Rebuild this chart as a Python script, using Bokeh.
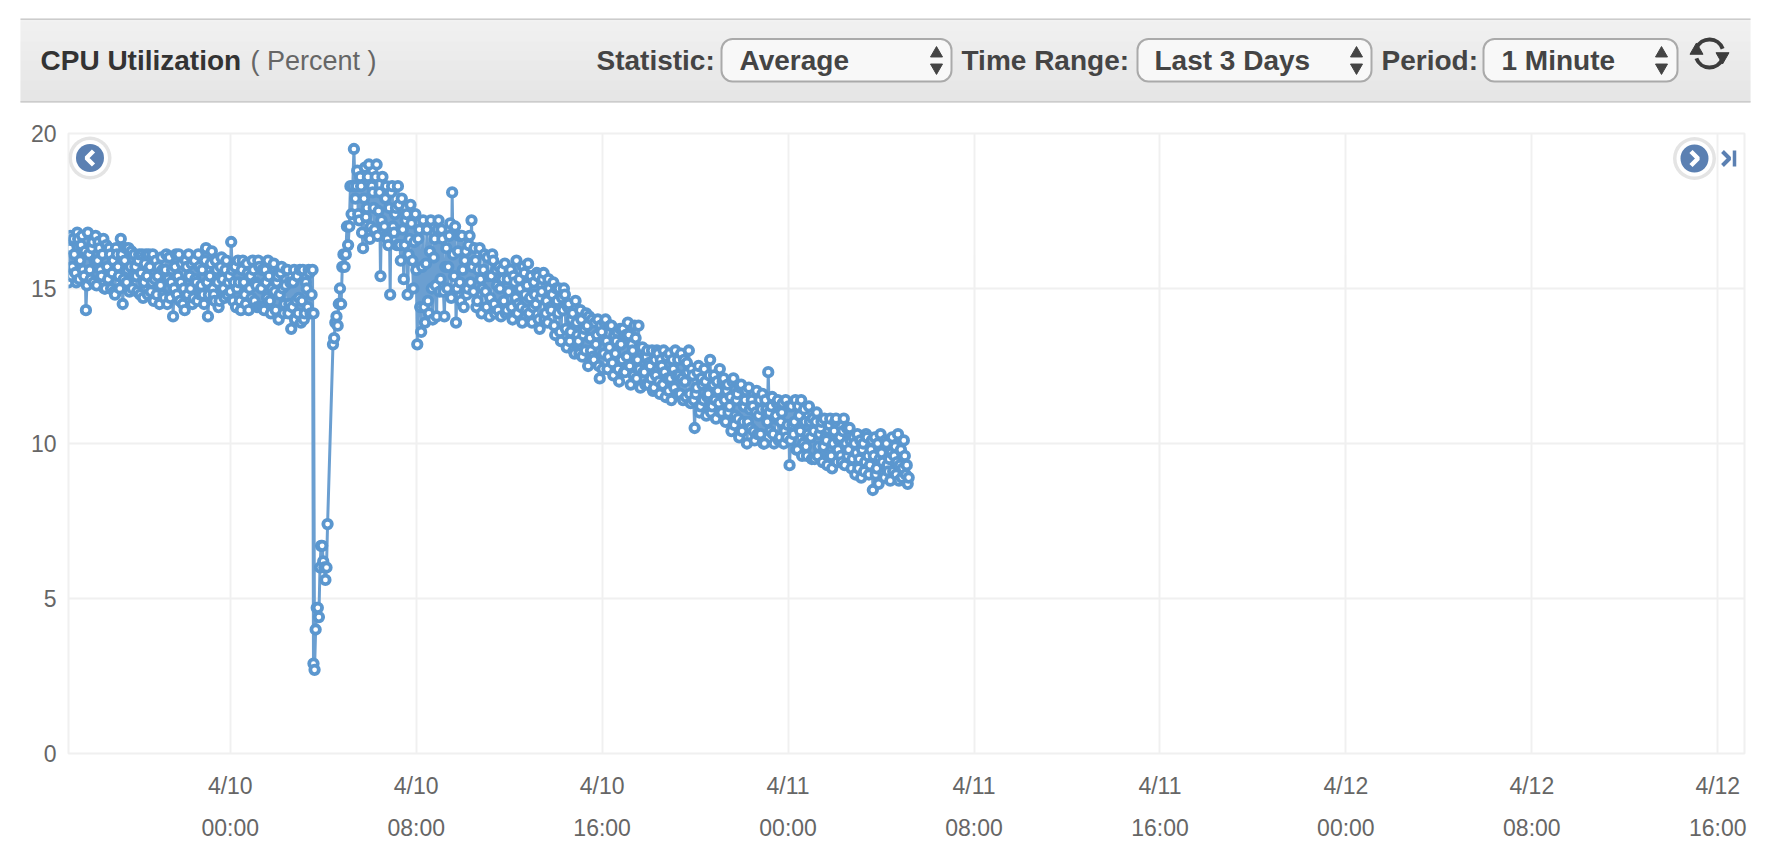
from bokeh.plotting import figure
from bokeh.models import Range1d, LinearAxis, FixedTicker, BoxAnnotation, Grid
from bokeh.layouts import column, row
from bokeh.core.properties import value
from bokeh.embed import file_html
from bokeh.resources import INLINE

# ---------- data ----------
title_main = "CPU Utilization"
title_unit = "( Percent )"
controls = ["Statistic:", "Time Range:", "Period:"]
choices = ["Average", "Last 3 Days", "1 Minute"]

tick_hours = [0, 8, 16, 24, 32, 40, 48, 56, 64]
tick_dates = ["4/10", "4/10", "4/10", "4/11", "4/11", "4/11", "4/12", "4/12", "4/12"]
tick_times = ["00:00", "08:00", "16:00", "00:00", "08:00", "16:00", "00:00", "08:00", "16:00"]
y_ticks = [0, 5, 10, 15, 20]

# CPU values; hours are relative to 4/10 00:00
before_start, before_step = -6.96, 5 / 60
before = [
    15.2,16.7,15.7,16.1,15.2,16.6,15.9,16.7,15.4,14.3,
    16.8,15.6,16.3,15.2,16.7,15.9,16.3,15.4,16.6,15.0,
    15.7,16.3,15.0,15.9,14.8,16.1,15.4,16.6,14.5,15.9,
    15.2,16.3,15.7,15.0,16.1,15.4,15.9,14.8,16.1,15.2,
    16.1,14.8,15.7,15.2,14.6,15.9,15.4,14.5,16.0,14.8,
    15.6,14.5,16.0,15.2,14.1,15.7,14.8,16.1,15.2,14.5,
    14.3,15.7,16.1,15.0,14.5,15.9,15.2,16.1,14.8,15.6,
    14.5,16.3,14.1,15.4,16.2,14.8,15.9,15.2,14.6,16.0,
    15.0,15.6,14.8,15.4,16.5,14.6,15.7,15.0,15.2,14.3,
    15.9,14.8,15.8,14.3,15.4,15.9,14.6,15.1,15.9,14.4,
    15.6,14.3,15.2,15.9,14.6,15.0,15.8,14.3,15.4,14.8,
    15.7,14.2,15.1,15.6,14.5,13.7,15.2,14.0,15.4,14.7,
    13.9,15.6,14.2,15.0,15.6,14.2,15.6,
]
before_mid = [
    16.3,15.4,16.6,15.5,16.8,15.3,16.4,15.6,16.2,15.1,
    16.1,15.3,16.5,15.9,15.1,16.5,15.6,16.1,15.0,16.4,
    15.3,16.1,15.5,14.9,16.3,15.7,15.0,16.1,15.3,16.3,
    15.6,14.9,16.2,15.4,15.7,14.9,16.1,15.5,14.7,15.8,
    15.4,16.1,14.9,16.1,15.3,14.8,15.7,15.1,15.6,14.7,
    16.1,15.3,14.7,15.6,15.0,16.1,15.4,14.6,15.8,15.0,
    15.9,14.8,15.4,15.8,14.7,15.3,14.6,15.7,15.1,14.8,
    15.9,15.2,14.8,15.8,15.0,14.6,15.6,14.4,15.7,15.3,
    14.7,15.9,15.2,14.9,15.6,15.2,14.4,15.9,14.6,15.6,
    15.2,14.5,15.5,15.0,14.7,15.6,15.2,14.4,15.7,15.0,
    14.4,15.6,14.7,15.4,14.2,15.7,14.9,15.2,14.0,15.5,
    15.0,14.5,15.6,14.2,15.2,14.4,15.6,14.6,14.2,15.6,
    14.6,14.0,15.2,14.4,15.5,14.8,14.2,
]
dip_start, dip_step = 3.58, 2.8 / 60
dip = [2.9,2.7,4.0,4.7,4.7,4.4,6.0,6.7,6.7,6.2,6.0,5.6,6.0,7.4]
rise_start, rise_step = 4.42, 3 / 60
rise = [13.2,13.4,13.9,14.1,13.8,14.5,15.0,14.5,15.7,16.1,15.7,16.1,17.0,16.4,17.0,18.3,17.4,18.3,19.5]
high_start, high_step = 5.38, 5 / 60
high = [
    17.9,18.8,17.2,18.3,16.3,18.9,17.6,19.0,17.0,18.1,
    16.9,19.0,17.5,15.4,18.6,17.0,18.3,16.4,14.8,18.3,
    16.8,17.6,18.3,16.4,17.9,15.3,17.2,14.8,16.6,17.1,
    15.0,17.4,13.2,16.9,13.6,17.2,13.9,16.9,14.2,17.2,
    14.0,16.6,14.1,17.2,15.3,16.6,14.1,16.3,15.7,17.1,
    18.1,15.4,13.9,16.2,15.2,16.7,14.4,16.2,15.0,16.7,
    17.2,14.9,15.9,14.6,
]
high_mid = [
    18.3,17.4,18.6,16.8,17.9,17.3,18.6,16.6,18.3,17.6,
    18.6,16.7,18.1,17.2,16.9,17.9,16.6,17.6,18.1,17.0,
    17.4,16.4,17.7,15.9,16.9,16.4,17.4,16.1,17.7,15.9,
    16.5,15.6,16.6,14.4,15.7,14.4,15.8,14.6,16.2,15.0,
    16.0,15.1,16.9,14.9,16.9,14.9,15.7,15.0,16.7,14.7,
    16.1,17.0,15.0,16.7,14.6,15.6,15.9,14.8,16.4,15.2,
    15.7,16.3,14.4,15.6,
]
tail_start, tail_step = 10.73, 5 / 60
tail = [
    16.3,14.2,15.6,14.9,16.0,14.1,15.4,15.9,14.2,15.1,
    15.7,14.1,15.3,15.8,14.3,14.9,15.6,14.0,15.2,15.9,
    14.5,15.0,13.9,15.5,14.3,15.8,14.7,13.9,15.2,14.5,
    15.4,13.7,14.9,15.5,14.2,13.9,15.0,14.3,15.2,13.5,
    14.6,15.0,13.3,14.3,14.8,
    13.1,14.5,13.6,14.2,12.9,13.9,13.3,14.3,12.8,13.7,
    14.2,12.5,13.4,14.0,12.7,13.2,14.0,12.1,13.6,12.9,
    14.0,12.4,13.1,13.8,12.2,12.9,13.6,12.0,13.2,13.7,
    12.3,12.8,13.5,11.9,13.0,13.8,12.1,13.8,
    11.8,13.1,12.3,12.8,11.9,12.5,13.0,11.8,12.2,12.9,
    11.6,12.5,13.0,11.5,12.1,12.9,11.4,12.4,13.0,11.6,
    12.2,12.9,11.4,12.0,12.6,13.0,11.3,12.2,10.5,11.8,
    12.5,11.2,11.9,12.4,10.9,11.6,12.7,11.2,12.2,10.8,
    11.7,12.4,11.0,12.1,
    10.7,11.9,11.2,10.4,12.1,10.9,11.6,10.2,11.9,10.7,
    11.4,10.0,11.8,10.5,11.2,10.1,11.7,10.9,10.3,11.6,
    10.0,11.1,12.3,10.4,11.5,10.0,10.9,11.4,10.2,11.0,
    10.0,11.4,10.6,9.3,11.2,
    10.3,11.4,9.8,10.9,11.4,10.0,10.7,9.6,11.2,10.2,
    10.8,9.5,11.0,9.9,10.5,9.4,10.8,10.1,9.6,10.8,
    9.2,10.4,10.8,9.8,10.2,9.4,10.8,10.0,9.6,10.5,
    9.2,10.2,9.0,10.3,9.5,8.9,10.0,9.4,10.2,9.0,
    9.8,8.5,10.2,9.2,8.7,10.3,9.4,8.9,10.0,9.1,
    8.8,10.2,9.6,9.0,10.3,9.3,8.9,10.1,9.0,8.7,
]
tail_mid = [
    15.3,15.0,16.1,14.4,15.4,14.7,16.1,14.5,15.6,14.3,
    15.0,15.6,14.6,14.2,15.3,15.6,14.4,15.4,14.7,14.2,
    15.3,14.4,15.7,14.8,15.1,14.2,15.4,14.4,14.8,15.5,
    14.0,14.7,15.3,14.0,14.6,15.3,14.4,14.8,13.8,15.0,
    14.2,13.6,14.7,15.0,13.7,
    14.4,13.3,14.0,13.0,14.6,13.5,12.9,14.0,13.5,13.0,
    13.8,14.1,13.0,12.8,13.9,13.5,12.5,13.8,12.4,13.9,
    13.3,12.8,13.8,12.6,13.5,13.3,12.4,13.7,12.7,12.3,
    13.5,13.9,12.5,13.2,12.2,13.4,12.7,12.4,
    13.0,12.3,11.9,13.0,12.6,12.1,11.7,12.7,13.0,12.0,
    12.7,11.9,12.3,12.8,11.7,12.1,12.7,11.8,12.2,12.7,
    11.6,12.1,12.7,11.5,12.3,11.6,12.4,11.4,11.6,12.3,
    11.0,12.1,11.4,12.0,11.5,12.2,11.0,11.9,11.4,12.0,
    11.3,11.0,12.0,11.4,
    11.7,11.0,11.5,12.0,10.6,11.4,10.8,11.8,10.4,11.2,
    11.7,10.7,11.1,11.4,10.4,11.0,10.3,11.4,11.1,10.0,
    11.4,10.7,11.0,11.2,10.3,10.8,11.3,10.1,10.7,11.3,
    10.4,10.2,11.2,10.1,10.6,
    10.7,9.8,11.2,10.4,9.6,11.1,9.9,10.3,10.7,9.5,
    10.4,10.7,9.6,10.3,10.7,9.9,10.2,9.3,10.6,9.6,
    10.0,10.7,9.4,10.1,9.6,10.4,9.3,10.5,9.8,10.1,
    9.5,10.0,9.7,9.2,10.1,9.8,9.1,10.3,9.6,9.3,
    10.1,9.6,9.0,10.0,9.5,9.7,9.0,10.1,9.3,9.5,
    9.7,9.1,9.9,9.4,8.8,9.8,9.2,9.6,9.3,8.9,
]

samples = []
for start, step, vals, offset in [(before_start, before_step, before, 0),
                                  (before_start, before_step, before_mid, 0.5),
                                  (dip_start, dip_step, dip, 0),
                                  (rise_start, rise_step, rise, 0),
                                  (high_start, high_step, high, 0),
                                  (high_start, high_step, high_mid, 0.5),
                                  (tail_start, tail_step, tail, 0),
                                  (tail_start, tail_step, tail_mid, 0.5)]:
    samples += [(start + (i + offset) * step, v) for i, v in enumerate(vals)]
samples.sort()
hours = [s[0] for s in samples]
cpu = [s[1] for s in samples]

# ---------- layout in page pixels ----------
FONT = value("Liberation Sans")
PAGE_L, PAGE_R = 0, 1774
PAGE_T, HEAD_B = 0, 110
BOTTOM = 860
FR_L, FR_R, FR_T, FR_B = 68, 1744, 133, 753

# ---------- header ----------
h = figure(width=PAGE_R - PAGE_L, height=HEAD_B - PAGE_T, output_backend="svg", toolbar_location=None,
           x_range=Range1d(PAGE_L, PAGE_R), y_range=Range1d(HEAD_B, PAGE_T),
           min_border=0, outline_line_color=None, x_axis_type=None, y_axis_type=None)
h.grid.visible = False

tops = list(range(18, 102))
def shade(t):
    g = round(237 - (t - 18) * (237 - 220) / 84)
    return f"#{g:02x}{g:02x}{g:02x}"
h.quad(left=[20] * len(tops), right=[1750] * len(tops), top=tops, bottom=[t + 1 for t in tops],
       fill_color=[shade(t) for t in tops], line_color=None)
h.quad(left=[20, 20], right=[1750, 1750], top=[18, 100.5], bottom=[19.5, 102],
       fill_color="#cccccc", line_color=None)

h.text([40], [60], text=[title_main], text_font=FONT, text_font_style="bold",
       text_font_size="28px", text_color="#333333", text_baseline="middle")
h.text([250], [60], text=[title_unit], text_font=FONT, text_font_size="27px",
       text_color="#666666", text_baseline="middle")

label_x = [596, 961, 1381]
box_l = [721, 1137, 1483]
box_r = [951, 1371, 1677]
choice_x = [739, 1154, 1501]
arrow_x = [936, 1356, 1661]
h.text(label_x, [60] * 3, text=controls, text_font=FONT, text_font_style="bold",
       text_font_size="28px", text_color="#444444", text_baseline="middle")
for l, r in zip(box_l, box_r):
    h.add_layout(BoxAnnotation(left=l, right=r, top=38.5, bottom=81, fill_color="#f8f8f8", fill_alpha=1,
                               line_color="#aaaaaa", line_alpha=1, line_width=2, border_radius=11,
                               level="annotation"))
h.text(choice_x, [60] * 3, text=choices, text_font=FONT, text_font_style="bold",
       text_font_size="28px", text_color="#444444", text_baseline="middle", level="overlay")
h.scatter(arrow_x, [53] * 3, marker="triangle", size=12, color="#444444", level="overlay")
h.scatter(arrow_x, [67] * 3, marker="inverted_triangle", size=12, color="#444444", level="overlay")

# refresh icon
h.arc([1709], [53], radius=14, start_angle=[0.35], end_angle=[2.75], line_color="#3c3c3c", line_width=4)
h.arc([1709], [53], radius=14, start_angle=[3.5], end_angle=[5.9], line_color="#3c3c3c", line_width=4)
h.scatter([1722], [56], marker="inverted_triangle", size=13, color="#3c3c3c")
h.scatter([1696], [50], marker="triangle", size=13, color="#3c3c3c")

# ---------- chart ----------
p = figure(width=PAGE_R - PAGE_L, height=BOTTOM - HEAD_B, output_backend="svg", toolbar_location=None,
           x_range=Range1d(-6.96, 65.15), y_range=Range1d(0, 20),
           min_border_left=FR_L - PAGE_L, min_border_right=PAGE_R - FR_R,
           min_border_top=FR_T - HEAD_B, min_border_bottom=BOTTOM - FR_B,
           outline_line_color="#f0f0f0", outline_line_width=2, x_axis_type=None, y_axis_type=None)

def axis_style(a):
    a.axis_line_color = None
    a.major_tick_line_color = None
    a.minor_tick_line_color = None
    a.major_tick_out = 0
    a.major_tick_in = 0
    a.major_label_text_font = "Liberation Sans"
    a.major_label_text_font_size = "23px"
    a.major_label_text_color = "#666666"

ax_date = LinearAxis(ticker=FixedTicker(ticks=tick_hours),
                     major_label_overrides=dict(zip(tick_hours, tick_dates)))
axis_style(ax_date)
ax_date.major_label_standoff = 19
p.add_layout(ax_date, "below")
ax_time = LinearAxis(ticker=FixedTicker(ticks=tick_hours),
                     major_label_overrides=dict(zip(tick_hours, tick_times)))
axis_style(ax_time)
ax_time.major_label_standoff = 13
p.add_layout(ax_time, "below")
ax_y = LinearAxis(ticker=FixedTicker(ticks=y_ticks))
axis_style(ax_y)
ax_y.major_label_standoff = 12
p.add_layout(ax_y, "left")

p.add_layout(Grid(dimension=0, ticker=FixedTicker(ticks=tick_hours), grid_line_color="#f0f0f0", grid_line_width=2))
p.add_layout(Grid(dimension=1, ticker=FixedTicker(ticks=y_ticks), grid_line_color="#f0f0f0", grid_line_width=2))

p.line(hours, cpu, line_color="#6b9fd1", line_width=3)
p.scatter(hours, cpu, marker="circle", size=8.5, fill_color="white", line_color="#5b97cf", line_width=3.8)

# nav buttons and legend swatch, placed in page pixels
p.extra_x_ranges["px"] = Range1d(FR_L, FR_R)
p.extra_y_ranges["px"] = Range1d(FR_B, FR_T)
nav = dict(x_range_name="px", y_range_name="px")
p.scatter([89.5, 1694], [157.5, 158], marker="circle", size=43, fill_color="#e4e4e4", line_color=None, **nav)
p.scatter([89.5, 1694], [157.5, 158], marker="circle", size=36, fill_color="#ffffff", line_color=None, **nav)
p.scatter([89.5, 1694], [157.5, 158], marker="circle", size=28, fill_color="#5b80b2", line_color=None, **nav)
p.line([93, 86, 93], [150.5, 157.5, 164.5], line_color="white", line_width=4.5, **nav)
p.line([1690.5, 1697.5, 1690.5], [151, 158, 165], line_color="white", line_width=4.5, **nav)
p.line([1722, 1729, 1722], [151, 158, 165], line_color="#5b80b2", line_width=4, **nav)
p.line([1734, 1734], [150, 166], line_color="#5b80b2", line_width=3.5, **nav)
p.add_layout(BoxAnnotation(left=90, right=126, top=854, bottom=860, fill_color="#cccccc", fill_alpha=1,
                           line_color=None, **nav))
p.add_layout(BoxAnnotation(left=94, right=122, top=858, bottom=860, fill_color="#5b86c4", fill_alpha=1,
                           line_color=None, **nav))

page = column(row(h), p, spacing=0)
open("out.html", "w").write(file_html(page, INLINE))
